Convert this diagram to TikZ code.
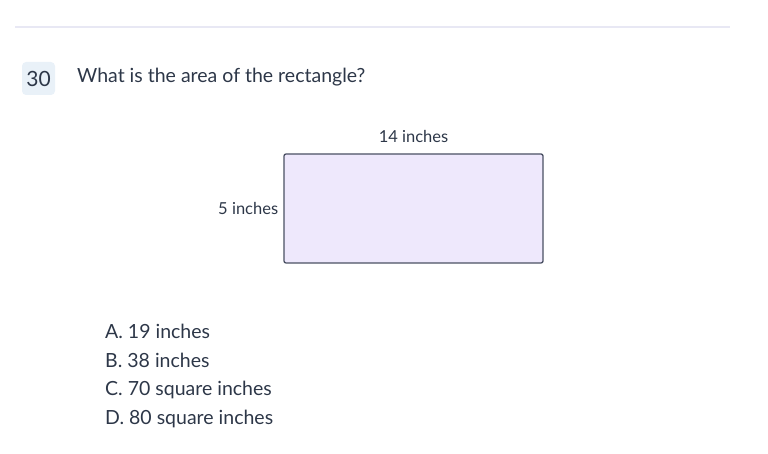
\documentclass[tikz,border=0pt]{standalone}
\usepackage{fontspec}
\setmainfont{Lato}
\usetikzlibrary{positioning}
\definecolor{ink}{HTML}{2D3748}
\definecolor{rule}{HTML}{E8E8F4}
\definecolor{numbg}{HTML}{E9F1F8}
\definecolor{shade}{HTML}{EEE8FC}
\definecolor{edge}{HTML}{4A5063}
\tikzset{
  txt/.style={text=ink, inner sep=0pt, font=\fontsize{19.5}{23}\selectfont},
  dim/.style={text=ink, inner sep=0pt, font=\fontsize{16.5}{19}\selectfont},
  choice/.style={txt, anchor=west}
}
\begin{document}
\begin{tikzpicture}[x=1pt, y=-1pt]
      \useasboundingbox (0, 0) rectangle (768, 454);
      \draw [rule, line width=2pt] (15, 27) -- (730, 27);
      \node (num) [fill=numbg, rounded corners=4pt, minimum width=33pt, minimum height=33pt,
                   text=ink, font=\fontsize{21}{24}\selectfont] at (38.5, 78.5) {30};
      \node (question) [txt, anchor=west] at (77, 77) {What is the area of the rectangle?};
      \node (rect) [draw=edge, fill=shade, line width=1.3pt, rounded corners=2pt,
                    minimum width=259pt, minimum height=109pt] at (413.5, 208.5) {};
      \node (top) [dim, above=11pt of rect] {14 inches};
      \node (side) [dim, left=5pt of rect] {5 inches};
      \node (a) [choice] at (105, 331) {A. 19 inches};
      \node (b) [choice] at (105, 360) {B. 38 inches};
      \node (c) [choice] at (105, 389.5) {C. 70 square inches};
      \node (d) [choice] at (105, 419) {D. 80 square inches};
\end{tikzpicture}
\end{document}
